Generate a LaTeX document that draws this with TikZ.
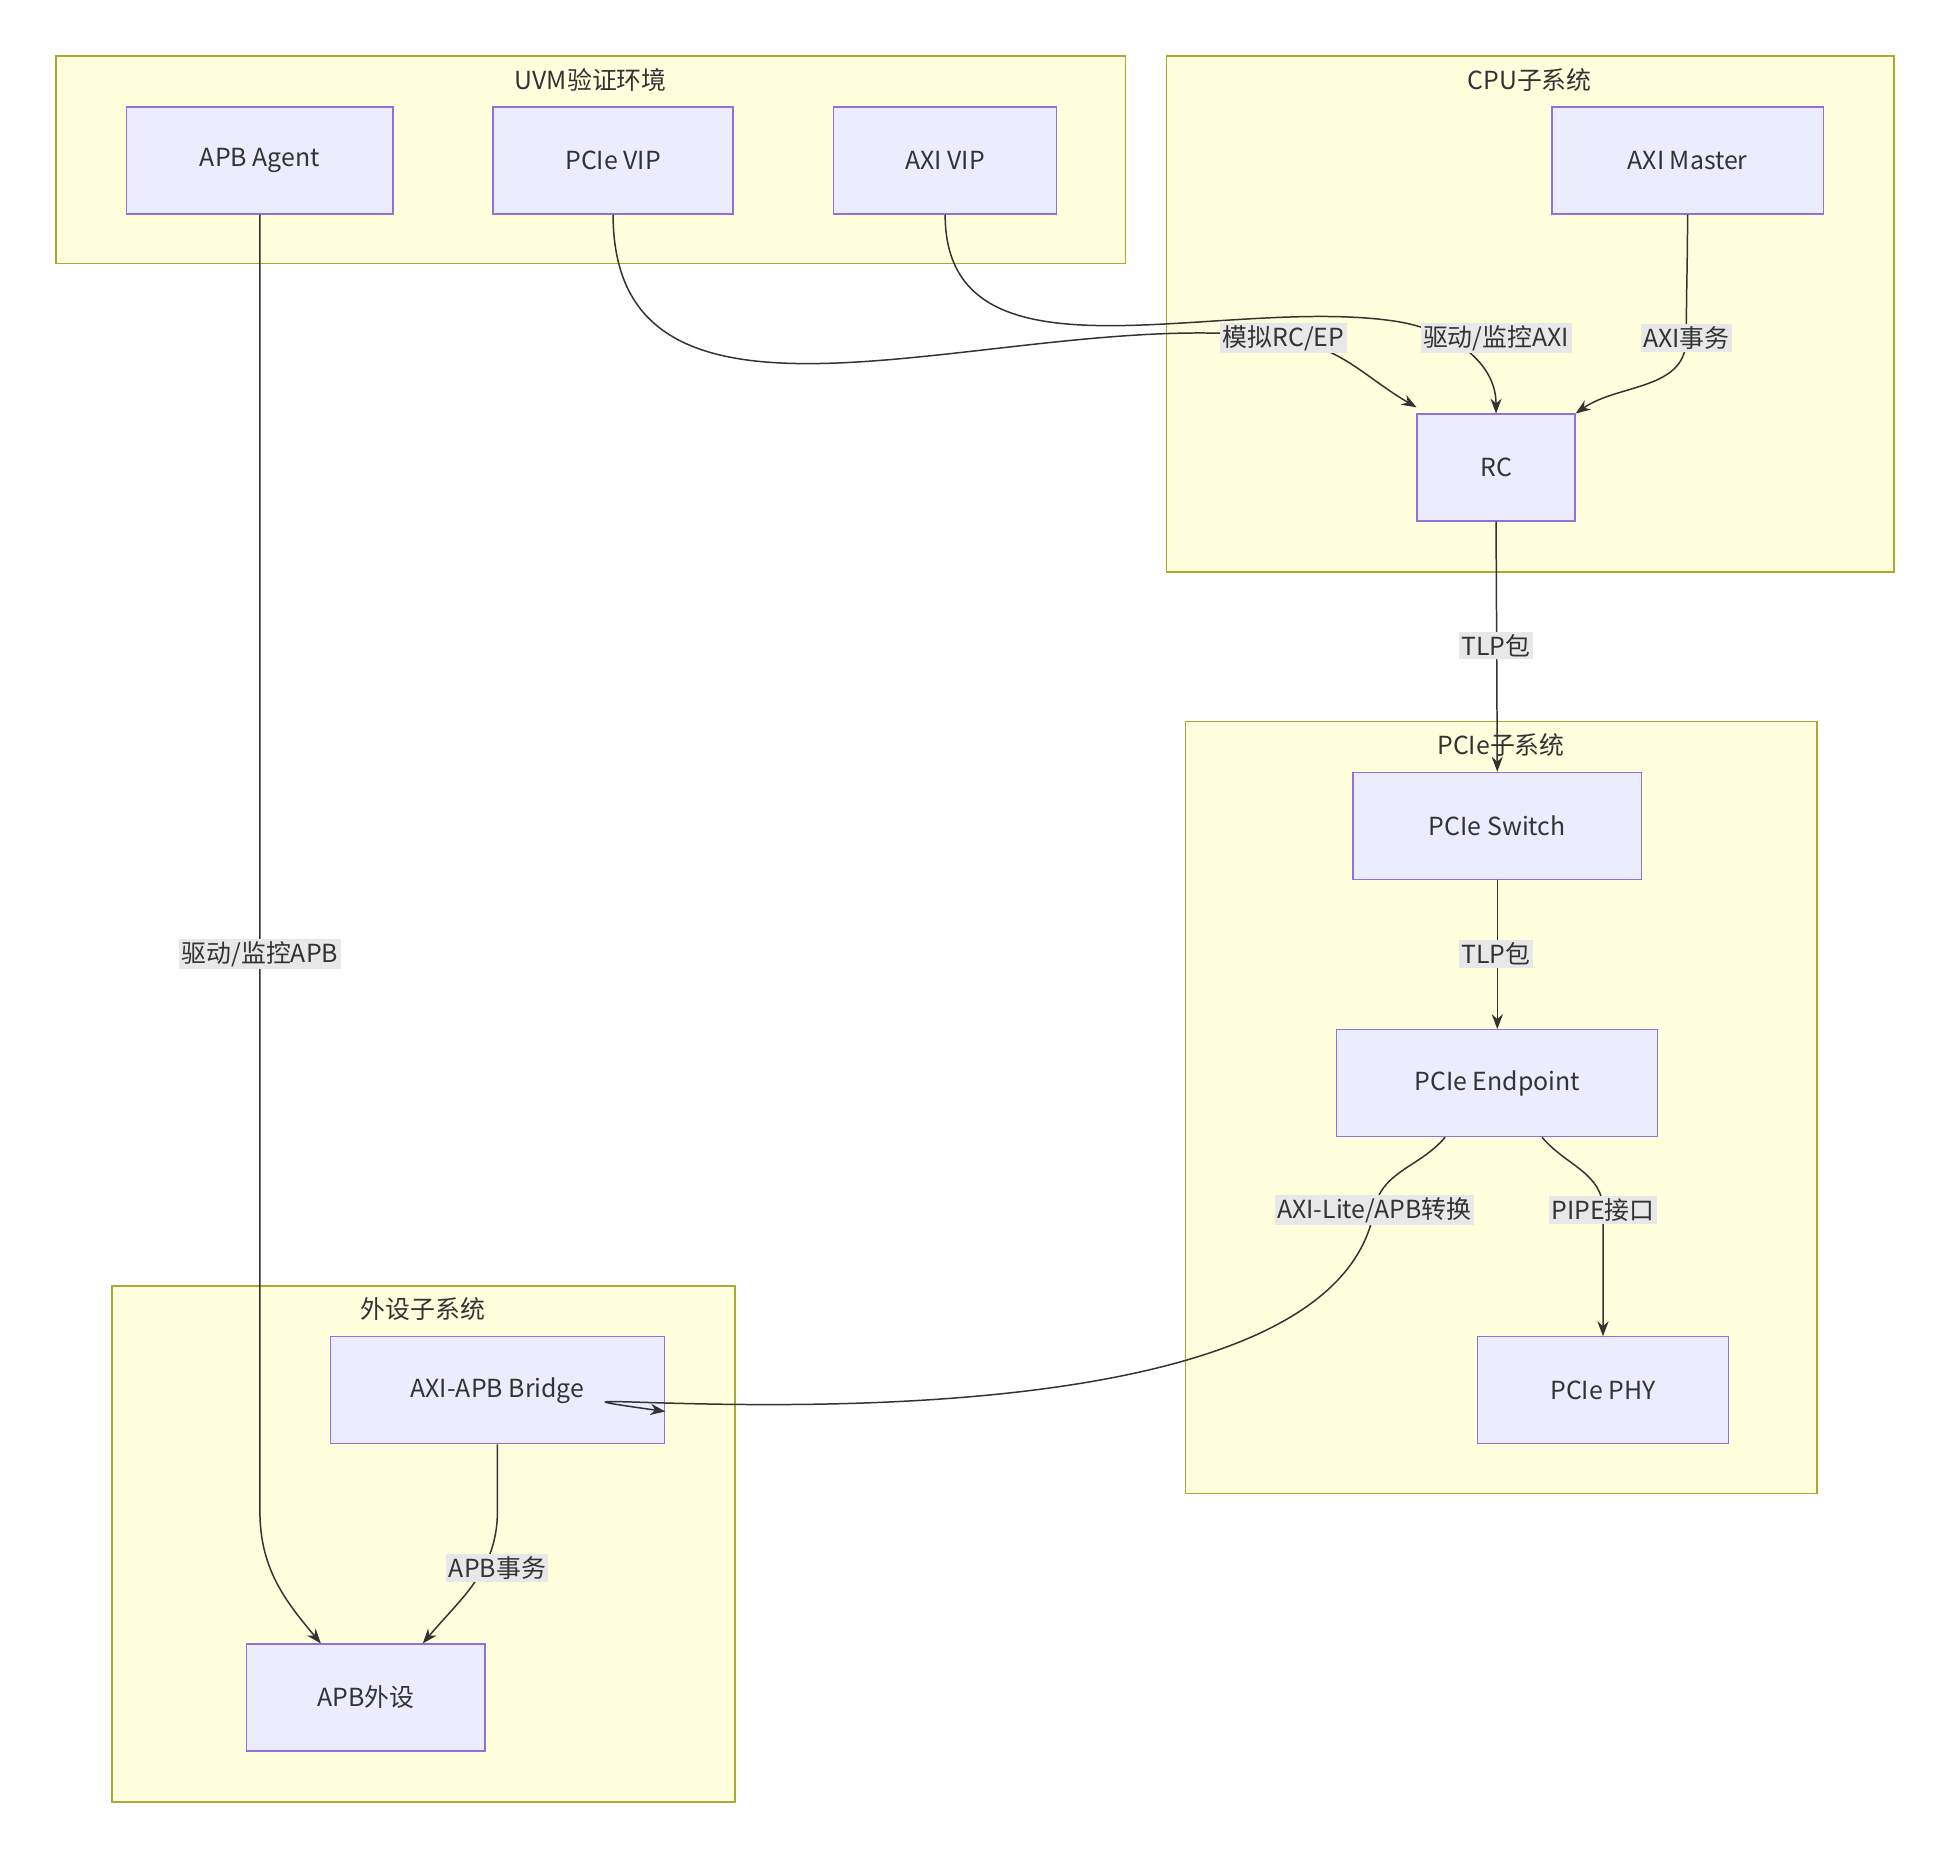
\documentclass[tikz,border=0pt]{standalone}
\usepackage{fontspec}
\setmainfont{Noto Sans CJK SC}
\usetikzlibrary{arrows.meta}
\definecolor{node fill}{HTML}{ECECFF}
\definecolor{node line}{HTML}{9370DB}
\definecolor{group fill}{HTML}{FFFFDE}
\definecolor{group line}{HTML}{AAAA33}
\definecolor{edge line}{HTML}{333333}
\definecolor{label fill}{HTML}{E8E8E8}
\begin{document}
\begin{tikzpicture}[x=1pt, y=-1pt, font=\fontsize{20}{24}\selectfont, text=edge line]
            \tikzset{group/.style={draw=group line, fill=group fill, line width=1pt}}
            \tikzset{block/.style={draw=node line, fill=node fill, line width=1pt, minimum height=86pt, inner sep=0pt}}
            \tikzset{link/.style={draw=edge line, line width=1.2pt, -{Stealth[length=12pt, width=9pt]}}}
            \tikzset{tag/.style={fill=label fill, inner sep=2pt}}
            \useasboundingbox (0, 0) rectangle (1560, 1488);
            % subsystems
            \draw[group] (45, 45) rectangle (905, 212);
            \node (uvm) at (475, 64) {UVM验证环境};
            \draw[group] (938, 45) rectangle (1523, 460);
            \node (cpu) at (1230, 64) {CPU子系统};
            \draw[group] (953, 580) rectangle (1461, 1201);
            \node (pcie) at (1207, 599) {PCIe子系统};
            \draw[group] (90, 1034) rectangle (591, 1449);
            \node (peri) at (340, 1053) {外设子系统};
            % blocks
            \node[block, minimum width=214pt] (apbagent) at (209, 129) {APB Agent};
            \node[block, minimum width=193pt] (pcievip) at (493, 129) {PCIe VIP};
            \node[block, minimum width=179pt] (axivip) at (760, 129) {AXI VIP};
            \node[block, minimum width=218pt] (aximaster) at (1357, 129) {AXI Master};
            \node[block, minimum width=127pt] (rc) at (1203, 376) {RC};
            \node[block, minimum width=232pt] (switch) at (1204, 664) {PCIe Switch};
            \node[block, minimum width=258pt] (endpoint) at (1204, 871) {PCIe Endpoint};
            \node[block, minimum width=202pt] (phy) at (1289, 1118) {PCIe PHY};
            \node[block, minimum width=269pt] (bridge) at (400, 1118) {AXI-APB Bridge};
            \node[block, minimum width=192pt] (apbdev) at (294, 1365) {APB外设};
            % labels
            \coordinate (l1) at (1032, 272);
            \coordinate (l2) at (1203, 272);
            \coordinate (l3) at (1356, 272);
            \coordinate (l7) at (1105, 973);
            \coordinate (l8) at (1289, 973);
            \coordinate (l9) at (209, 767);
            \coordinate (l10) at (400, 1261);
            % links
            \draw[link] (pcievip.south) to[out=-90, in=172] (l1) to[out=-8, in=150] ([yshift=5pt]rc.north west);
            \draw[link] (axivip.south) to[out=-90, in=172] (1120, 258) to[out=-8, in=90] (rc.north);
            \draw[link] (aximaster.south) to[out=-90, in=90] (l3) to[out=-90, in=35] (rc.north east);
            \draw[link] (rc.south) -- (switch.north);
            \draw[link] (switch.south) -- (endpoint.south |- endpoint.north);
            \draw[link] ([xshift=-42pt]endpoint.south) to[out=-130, in=80] (l7) to[out=-100, in=172] ([yshift=-17pt]bridge.east);
            \draw[link] ([xshift=36pt]endpoint.south) to[out=-50, in=90] (l8) -- (phy.north);
            \draw[link] (apbagent.south) -- (l9) -- (209, 1215) to[out=-90, in=130] ([xshift=-36pt]apbdev.north);
            \draw[link] (bridge.south) -- (400, 1215) to[out=-90, in=50] ([xshift=46pt]apbdev.north);
            \node[tag] at (l1) {模拟RC/EP};
            \node[tag] at (l2) {驱动/监控AXI};
            \node[tag] at (l3) {AXI事务};
            \node[tag] at (1203, 519) {TLP包};
            \node[tag] at (1203, 767) {TLP包};
            \node[tag] at (l7) {AXI-Lite/APB转换};
            \node[tag] at (l8) {PIPE接口};
            \node[tag] at (l9) {驱动/监控APB};
            \node[tag] at (l10) {APB事务};
\end{tikzpicture}
\end{document}
